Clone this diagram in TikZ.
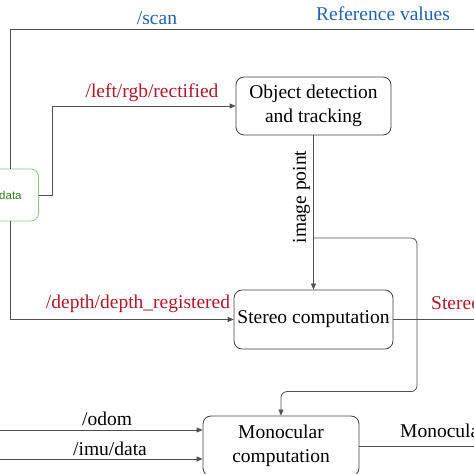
\documentclass[tikz,border=0pt]{standalone}
\usepackage{fontspec}
\setmainfont{Liberation Serif}
\newfontfamily\datafont{Liberation Sans}
\usetikzlibrary{arrows.meta, positioning}
\definecolor{refblue}{HTML}{1F63B0}
\definecolor{topicred}{HTML}{B0182A}
\definecolor{datagreen}{HTML}{2F7A1F}
\definecolor{databorder}{HTML}{8CC58A}
\definecolor{wiregray}{HTML}{505050}

\begin{document}
\begin{tikzpicture}[
        x=1pt, y=1pt,
        font=\fontsize{19.5}{23.5}\selectfont,
        block/.style={rectangle, rounded corners=8pt, draw=black!75, line width=0.8pt, align=center, minimum width=155pt, minimum height=58pt},
        datablock/.style={rectangle, rounded corners=8pt, draw=databorder, line width=0.8pt, text=datagreen, font=\datafont\fontsize{11.5}{14}\selectfont, minimum width=100pt, minimum height=52pt, text width=66pt, align=right},
        wire/.style={draw=wiregray, line width=0.8pt},
        arrow/.style={wire, -{Triangle[length=6pt, width=5pt]}},
        topic/.style={text=topicred, inner sep=0pt},
        refval/.style={text=refblue, inner sep=0pt}
    ]
        \useasboundingbox (0,0) rectangle (474,474);
        \clip (0,0) rectangle (474,474);

        % Nodes
        \node[datablock, anchor=east] (data) at (39,279) {data};
        \node[block] (objdet) at (313.5,368) {Object detection\\and tracking};
        \node[block, minimum height=59pt] (stereo) at (313.5,154.5) {Stereo computation};
        \node[block, minimum width=156pt, minimum height=60pt] (mono) at (281,28) {Monocular\\computation};

        % Free ends
        \coordinate (scanleft) at (10,445);
        \coordinate (refend) at (480,445);
        \coordinate (depthleft) at (10,154.5);
        \coordinate (stereoend) at (480,154.5);
        \coordinate (monoend) at (480,28);
        \coordinate (odomin) at (-5,44);
        \coordinate (imuin) at (-5,15);
        \coordinate (branch) at (313.5,236);

        % Labels
        \node[refval] (scanlabel) at (157,456) {/scan};
        \node[refval] (reflabel) at (383,460) {Reference values};
        \node[topic] (rectlabel) at (152,381) {/left/rgb/rectified};
        \node[topic] (depthlabel) at (138,170) {/depth/depth\_registered};
        \node[topic, anchor=west] (stereolabel) at (431,171) {Stereo values};
        \node[inner sep=0pt, anchor=west] (monolabel) at (400,43) {Monocular values};
        \node[inner sep=0pt] (odomlabel) at (107,55) {/odom};
        \node[inner sep=0pt] (imulabel) at (110,25) {/imu/data};

        % Arrows
        \draw[wire] (data.north -| scanleft) -- (scanleft) -- (refend);
        \draw[arrow] (data.south -| depthleft) |- (stereo.west);
        \draw[arrow] (data.east) -- ++(13,0) |- (objdet.west);
        \draw[arrow] (objdet.south) -- node[pos=0.4, rotate=90, anchor=south, inner sep=3pt] (pointlabel) {image point} (stereo.north);
        \draw[arrow, rounded corners=6pt] (branch) -- ++(103.5,0) |- ([yshift=24pt]mono.north) -- (mono.north);
        \draw[wire] (stereo.east) -- (stereoend);
        \draw[wire] (mono.east) -- (monoend);
        \draw[arrow] (odomin) -- (mono.west |- odomin);
        \draw[arrow] (imuin) -- (mono.west |- imuin);

    \end{tikzpicture}
\end{document}
